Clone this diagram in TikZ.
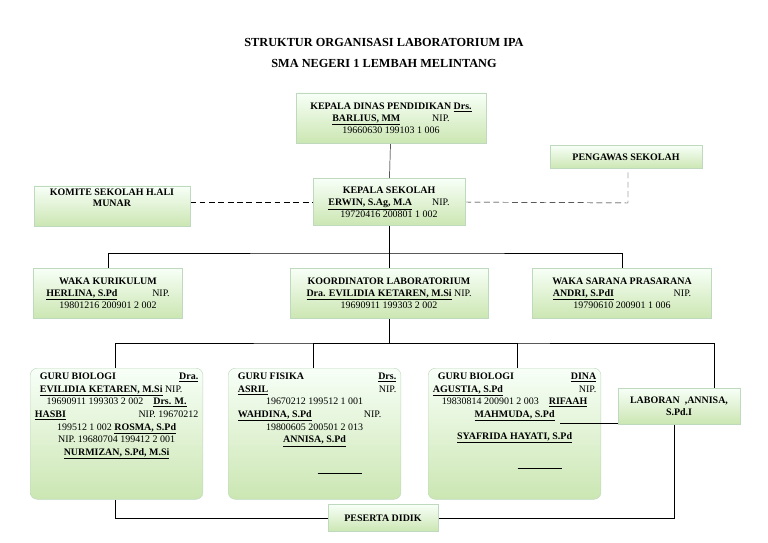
\documentclass[tikz,border=0pt]{standalone}
\usepackage{fontspec}
\setmainfont{Liberation Serif}
\usetikzlibrary{positioning,shadings,backgrounds}
\tikzset{
  box/.style={draw=green!25!gray!40, top color=green!3, bottom color=green!35!olive!30, inner sep=1pt, align=center, font=\fontsize{8.5}{10.2}\selectfont},
  bigbox/.style={box, rounded corners=6pt, anchor=north west, inner sep=4pt},
  link/.style={thin, black},
  dotlink/.style={thin, dash pattern=on 5pt off 3pt}
}
\newcommand{\nm}[1]{\textbf{\underline{#1}}}
\newcommand{\cl}[1]{{\centering #1\par}}
\newcommand{\rl}[1]{{\raggedright #1\par}}
\newcommand{\guru}[1]{\parbox[c][3.65cm][t]{4.9cm}{\fontsize{8.5}{10.8}\selectfont #1}}
\begin{document}
\begin{tikzpicture}[x=0.03cm, y=-0.03cm]
\useasboundingbox (0,0) rectangle (768,543);
\node[font=\bfseries\fontsize{10.5}{12}\selectfont] (title) at (384,42) {STRUKTUR ORGANISASI LABORATORIUM IPA};
\node[font=\bfseries\fontsize{10.5}{12}\selectfont] (sub) at (384,63) {SMA NEGERI 1 LEMBAH MELINTANG};

\node[box, minimum width=190*0.03cm, minimum height=50*0.03cm] (dinas) at (391,118)
  {\textbf{KEPALA DINAS PENDIDIKAN} \nm{Drs.}\\ \nm{BARLIUS, MM}\hspace{3.2em}NIP.\\ 19660630 199103 1 006};
\node[box, minimum width=152*0.03cm, minimum height=23*0.03cm] (pengawas) at (626,157) {\textbf{PENGAWAS SEKOLAH}};
\node[box, minimum width=156*0.03cm, minimum height=40*0.03cm] (komite) at (112,206) {\textbf{KOMITE SEKOLAH H.ALI}\\ \textbf{MUNAR}\\[4pt]};
\node[box, minimum width=152*0.03cm, minimum height=47*0.03cm] (kepsek) at (389,202)
  {\textbf{KEPALA SEKOLAH}\\ \nm{ERWIN, S.Ag, M.A}\hspace{2em}NIP.\\ 19720416 200801 1 002};

\node[box, minimum width=149*0.03cm, minimum height=50*0.03cm] (kurikulum) at (108,293)
  {\textbf{WAKA KURIKULUM}\\ \nm{HERLINA, S.Pd}\hspace{3.5em}NIP.\\ 19801216 200901 2 002};
\node[box, minimum width=198*0.03cm, minimum height=50*0.03cm] (koord) at (389,293)
  {\textbf{KOORDINATOR LABORATORIUM}\\ \nm{Dra. EVILIDIA KETAREN, M.Si} NIP.\\ 19690911 199303 2 002};
\node[box, minimum width=179*0.03cm, minimum height=50*0.03cm] (sarana) at (622,293)
  {\textbf{WAKA SARANA PRASARANA}\\ \nm{ANDRI, S.PdI}\hspace{6em}NIP.\\ 19790610 200901 1 006};

\node[bigbox] (bio1) at (30,368) {\guru{%
   \rl{\hspace*{0.5em}\textbf{GURU BIOLOGI}\hfill\nm{Dra.}}
   \rl{\hspace*{0.5em}\nm{EVILIDIA KETAREN, M.Si} NIP.}
   \cl{19690911 199303 2 002\quad \nm{Drs. M.}}
   \rl{\nm{HASBI}\hfill NIP. 19670212}
   \cl{199512 1 002 \nm{ROSMA, S.Pd}}
   \cl{NIP. 19680704 199412 2 001}
   \cl{\nm{NURMIZAN, S.Pd, M.Si}}}};
\node[bigbox] (fisika) at (228,368) {\guru{%
   \rl{\hspace*{0.5em}\textbf{GURU FISIKA}\hfill\nm{Drs.}}
   \rl{\hspace*{0.5em}\nm{ASRIL}\hfill NIP.}
   \cl{19670212 199512 1 001}
   \rl{\hspace*{0.5em}\nm{WAHDINA, S.Pd}\hfill NIP.\hspace*{1.5em}}
   \cl{19800605 200501 2 013}
   \cl{\nm{ANNISA, S.Pd}}
   \vspace{14pt}
   \rl{\hspace*{8.5em}\underline{\hspace{4.5em}}}}};
\node[bigbox] (bio2) at (428,368) {\guru{%
   \rl{\hspace*{0.5em}\textbf{GURU BIOLOGI}\hfill\nm{DINA}}
   \rl{\nm{AGUSTIA, S.Pd}\hfill NIP.}
   \cl{19830814 200901 2 003\quad \nm{RIFAAH}}
   \cl{\nm{MAHMUDA, S.Pd}}
   \vspace{8pt}
   \cl{\nm{SYAFRIDA HAYATI, S.Pd}}
   \vspace{12pt}
   \rl{\hspace*{8.5em}\underline{\hspace{4.5em}}}}};
\node[box, minimum width=122*0.03cm, minimum height=36*0.03cm] (laboran) at (679,406) {\textbf{LABORAN\ \ ,ANNISA,}\\ \textbf{S.Pd.I}};
\node[box, minimum width=110*0.03cm, minimum height=27*0.03cm] (peserta) at (383,518) {\textbf{PESERTA DIDIK}};

% garis komando
\begin{pgfonlayer}{background}
\coordinate (top) at (389,253);
\coordinate (mid) at (389,343);
\coordinate (lab) at (560,423);
\coordinate (kpn) at (628,203);
\draw[link] (dinas) -- (kepsek);
\draw[link] (kepsek) -- (top);
\draw[link] (kurikulum.north) |- (top) -| (sarana.north);
\draw[link] (top) -- (koord);
\draw[link] (koord) -- (mid);
\draw[link] (bio1.north -| 115,0) |- (mid) -| (laboran.north -| 714,0);
\draw[link] (mid) -| (fisika.north -| 313,0);
\draw[link] (mid) -| (bio2.north -| 517,0);
\draw[link] (bio1.south -| 115,0) |- (peserta.west);
\draw[link] (peserta.east) -| (laboran.south -| 674,0);
% garis koordinasi
\draw[dotlink] (komite.east |- kepsek.west) -- (kepsek.west);
\draw[dotlink] (kepsek.east) -- (kpn) -- (pengawas.south -| kpn);
\end{pgfonlayer}
\draw[link] (laboran.west |- lab) -- (lab);
\end{tikzpicture}
\end{document}
